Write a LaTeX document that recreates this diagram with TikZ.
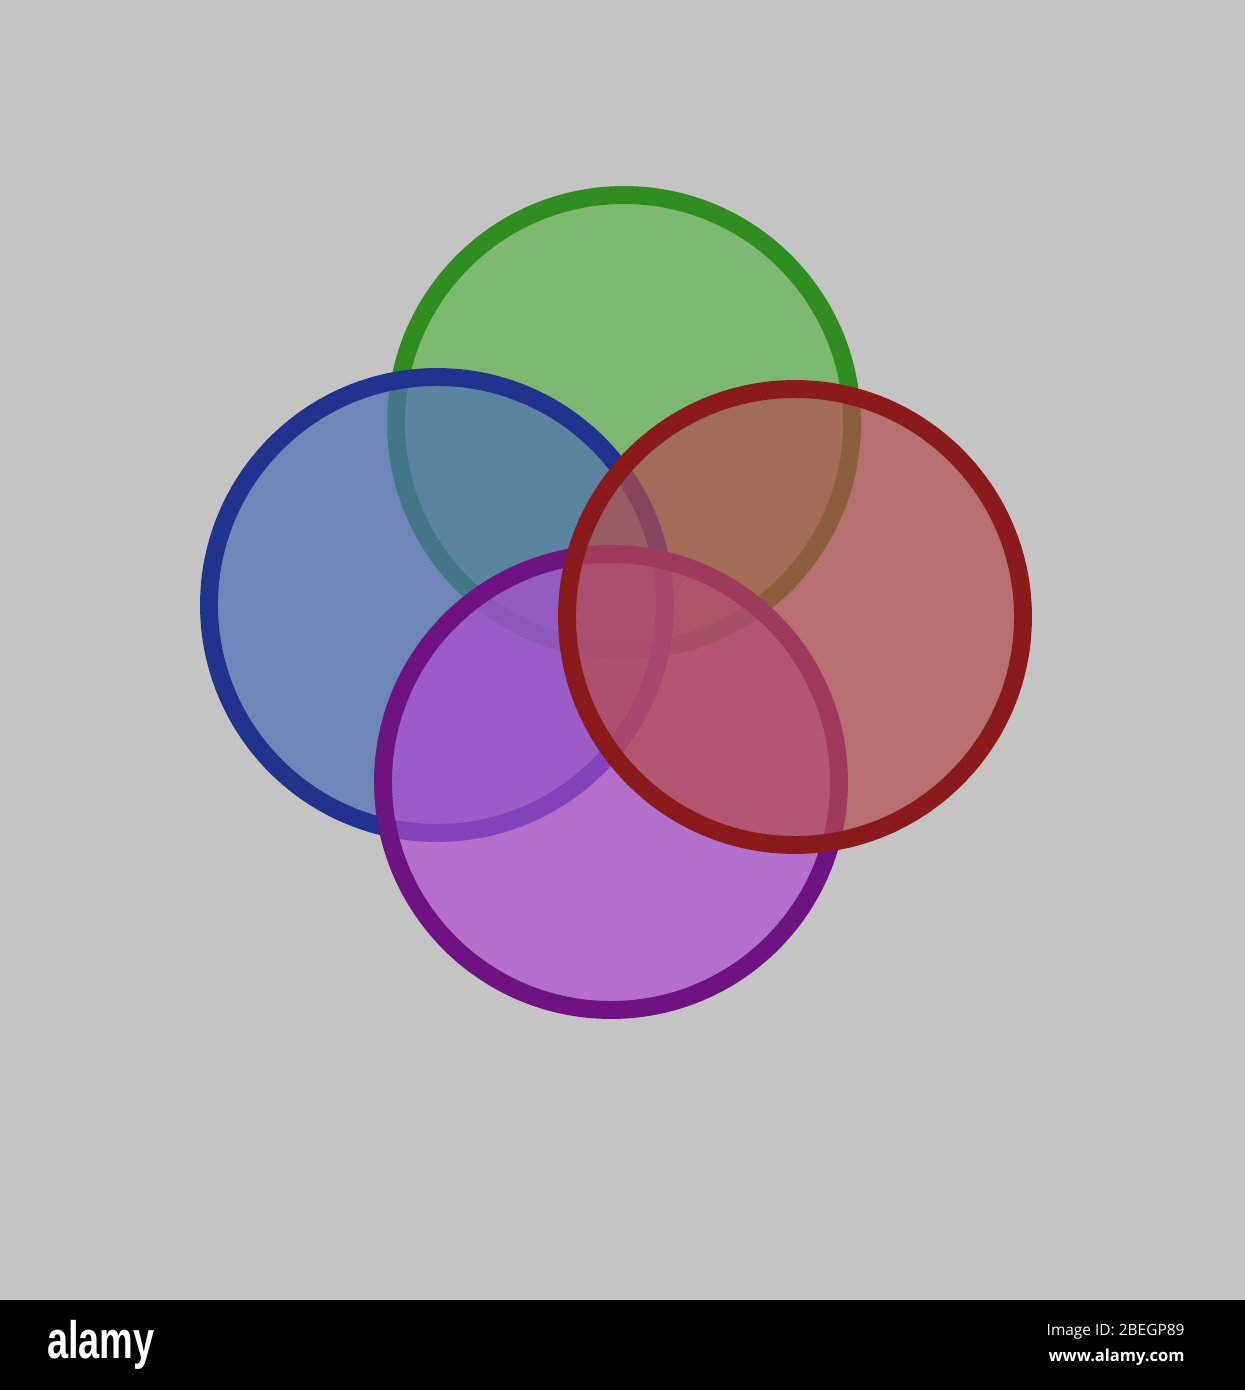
\documentclass[tikz,border=0pt]{standalone}
\usepackage{fontspec}
\setsansfont{Open Sans}
\newfontfamily\logofont{Liberation Sans}
\usetikzlibrary{positioning}
\definecolor{bggray}{RGB}{196,196,196}
\definecolor{greenline}{RGB}{48,142,32}
\definecolor{greenfill}{RGB}{95,179,79}
\definecolor{blueline}{RGB}{33,50,143}
\definecolor{bluefill}{RGB}{76,110,179}
\definecolor{redline}{RGB}{139,26,28}
\definecolor{redfill}{RGB}{179,76,76}
\definecolor{purpleline}{RGB}{111,18,130}
\definecolor{purplefill}{RGB}{173,76,207}
\tikzset{
	ring/.style={circle,draw,line width=5.1pt,minimum size=4.56cm,inner sep=0pt,fill opacity=0.7}
}
\tikzset{
	bar text/.style={text=white,font=\sffamily\fontsize{4.4}{5}\selectfont,anchor=east}
}

\begin{document}
\begin{tikzpicture}
	\fill[bggray] (0,0.9) rectangle (12.45,13.9);
	\fill[black] (0,0) rectangle (12.45,0.9);
	\useasboundingbox (0,0) rectangle (12.45,13.9);
	% the four rings
	\node[ring,draw=greenline,fill=greenfill] (green) at (6.24,9.67) {};
	\node[ring,draw=blueline,fill=bluefill] (blue) at (4.37,7.85) {};
	\node[ring,draw=purpleline,fill=purplefill] (purple) at (6.11,6.08) {};
	\node[ring,draw=redline,fill=redfill] (red) at (7.95,7.73) {};
	% bottom bar
	\node[text=white,font=\logofont\bfseries\fontsize{15}{16}\selectfont] (logo) at (1.01,0.45) {\scalebox{0.72}[1]{alamy}};
	\node[bar text] (imageid) at (11.97,0.585) {Image ID: 2BEGP89};
	\node[bar text,font=\sffamily\bfseries\fontsize{4.7}{5}\selectfont] (website) at (11.97,0.33) {www.alamy.com};
\end{tikzpicture}
\end{document}
